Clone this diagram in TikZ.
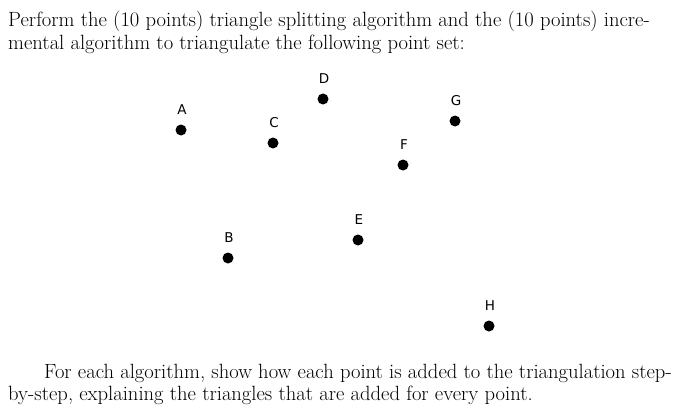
\documentclass[tikz,border=0pt]{standalone}
\usepackage{fontspec}
\newfontfamily\lab{DejaVu Sans}
\begin{document}
\begin{tikzpicture}[x=1pt,y=-1pt,
  txt/.style={anchor=base west,inner sep=0,font=\fontsize{20.6}{24}\selectfont},
  dot/.style={circle,fill=black,minimum size=11pt,inner sep=0},
  lbl/.style={font=\lab\fontsize{13.5}{15}\selectfont,inner sep=0}]
\useasboundingbox (0,0) rectangle (700,417);
\node[txt] (t1) at (8,27) {Perform the (10 points) triangle splitting algorithm and the (10 points) incre-};
\node[txt] (t2) at (8,50) {mental algorithm to triangulate the following point set:};
\node[txt] (t3) at (44,378) {For each algorithm, show how each point is added to the triangulation step-};
\node[txt] (t4) at (8,400) {by-step, explaining the triangles that are added for every point.};
\foreach \n/\x/\y in {A/181/130,B/228/258,C/273/143,D/323/99,E/358/240,F/403/165,G/455/121,H/489/326}{
  \node[dot] (\n) at (\x,\y) {};
  \node[lbl] (l\n) at (\x+1,\y-20) {\n};
}
\end{tikzpicture}
\end{document}
